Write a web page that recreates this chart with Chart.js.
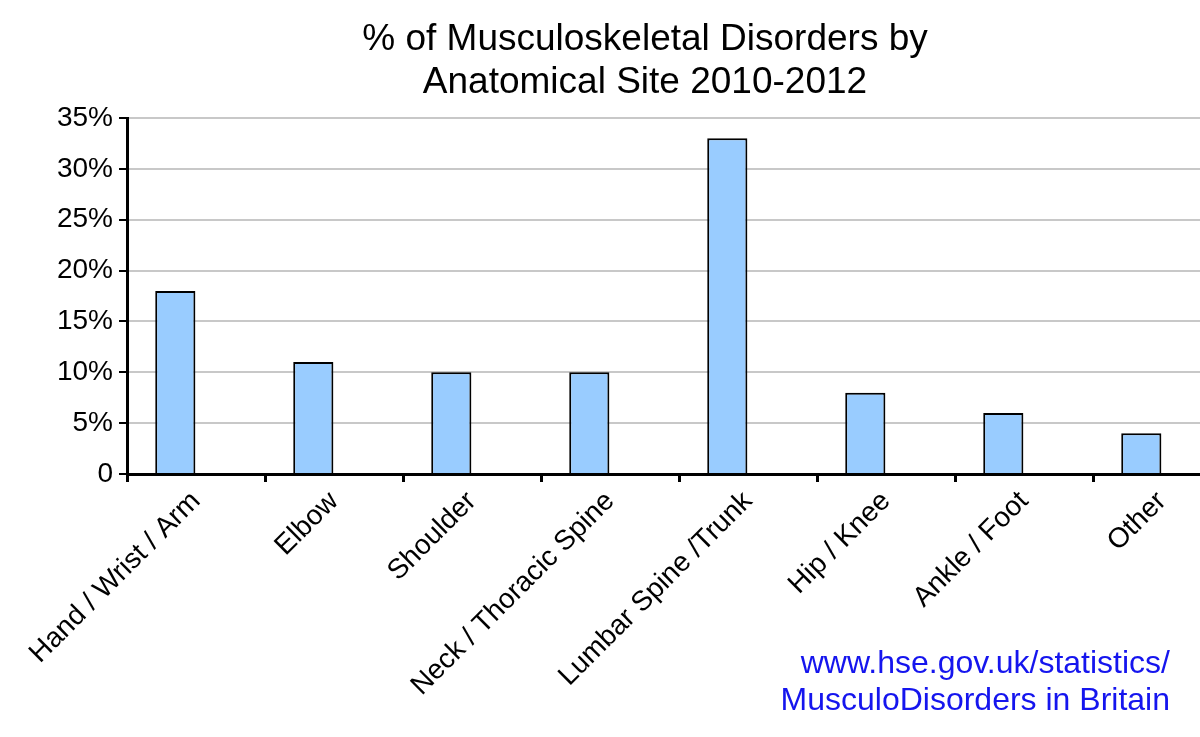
<!DOCTYPE html>
<html><head><meta charset="utf-8">
<script src="https://cdn.jsdelivr.net/npm/chart.js@4/dist/chart.umd.min.js"></script>
<style>
body{margin:0;background:#fff;font-family:"Liberation Sans",Arial,sans-serif;}
#wrap{position:relative;width:1200px;height:737px;overflow:hidden;}
#title{position:absolute;left:0;width:1290px;top:16px;text-align:center;font-size:37px;line-height:43px;color:#000;}
#src{position:absolute;right:30px;top:644px;text-align:right;font-size:32px;line-height:37px;color:#1515ee;}
canvas{position:absolute;left:0;top:0;}
</style></head><body>
<div id="wrap">
<canvas id="c" width="1240" height="737"></canvas>
<div id="title">% of Musculoskeletal Disorders by<br>Anatomical Site 2010-2012</div>
<div id="src">www.hse.gov.uk/statistics/<br>MusculoDisorders in Britain</div>
</div>
<script>
const categories=["Hand / Wrist / Arm","Elbow","Shoulder","Neck / Thoracic Spine","Lumbar Spine /Trunk","Hip / Knee","Ankle / Foot","Other"];
const values=[18,11,10,10,33,8,6,4];
const yTickLabels={0:"0",5:"5%",10:"10%",15:"15%",20:"20%",25:"25%",30:"30%",35:"35%"};
new Chart(document.getElementById('c'),{
type:'bar',
data:{labels:categories,datasets:[
 {data:values,backgroundColor:'#99ccff',borderColor:'#000',borderWidth:2,barPercentage:0.97,categoryPercentage:0.6},
 {data:categories.map(()=>null),barPercentage:0.97,categoryPercentage:0.6}]},
options:{responsive:false,animation:false,
layout:{padding:{top:118,right:9,left:0,bottom:0}},
plugins:{legend:{display:false},tooltip:{enabled:false}},
scales:{
x:{offset:true,afterFit(s){s.height=263;},
 grid:{offset:true,drawOnChartArea:false,color:'#000',tickColor:'#000',tickLength:8,lineWidth:3},
 border:{color:'#000',width:3},
 ticks:{minRotation:45,maxRotation:45,color:'#000',font:{size:28,family:'"Liberation Sans",Arial'}}},
y:{min:0,max:35,afterFit(s){s.width=127;},
 grid:{color:'#c8c8c8',lineWidth:2,tickColor:'#000',tickLength:8},
 border:{color:'#000',width:3},
 ticks:{stepSize:5,color:'#000',padding:6,font:{size:28,family:'"Liberation Sans",Arial'},callback:v=>yTickLabels[v]}}
}}});
</script>
</body></html>
